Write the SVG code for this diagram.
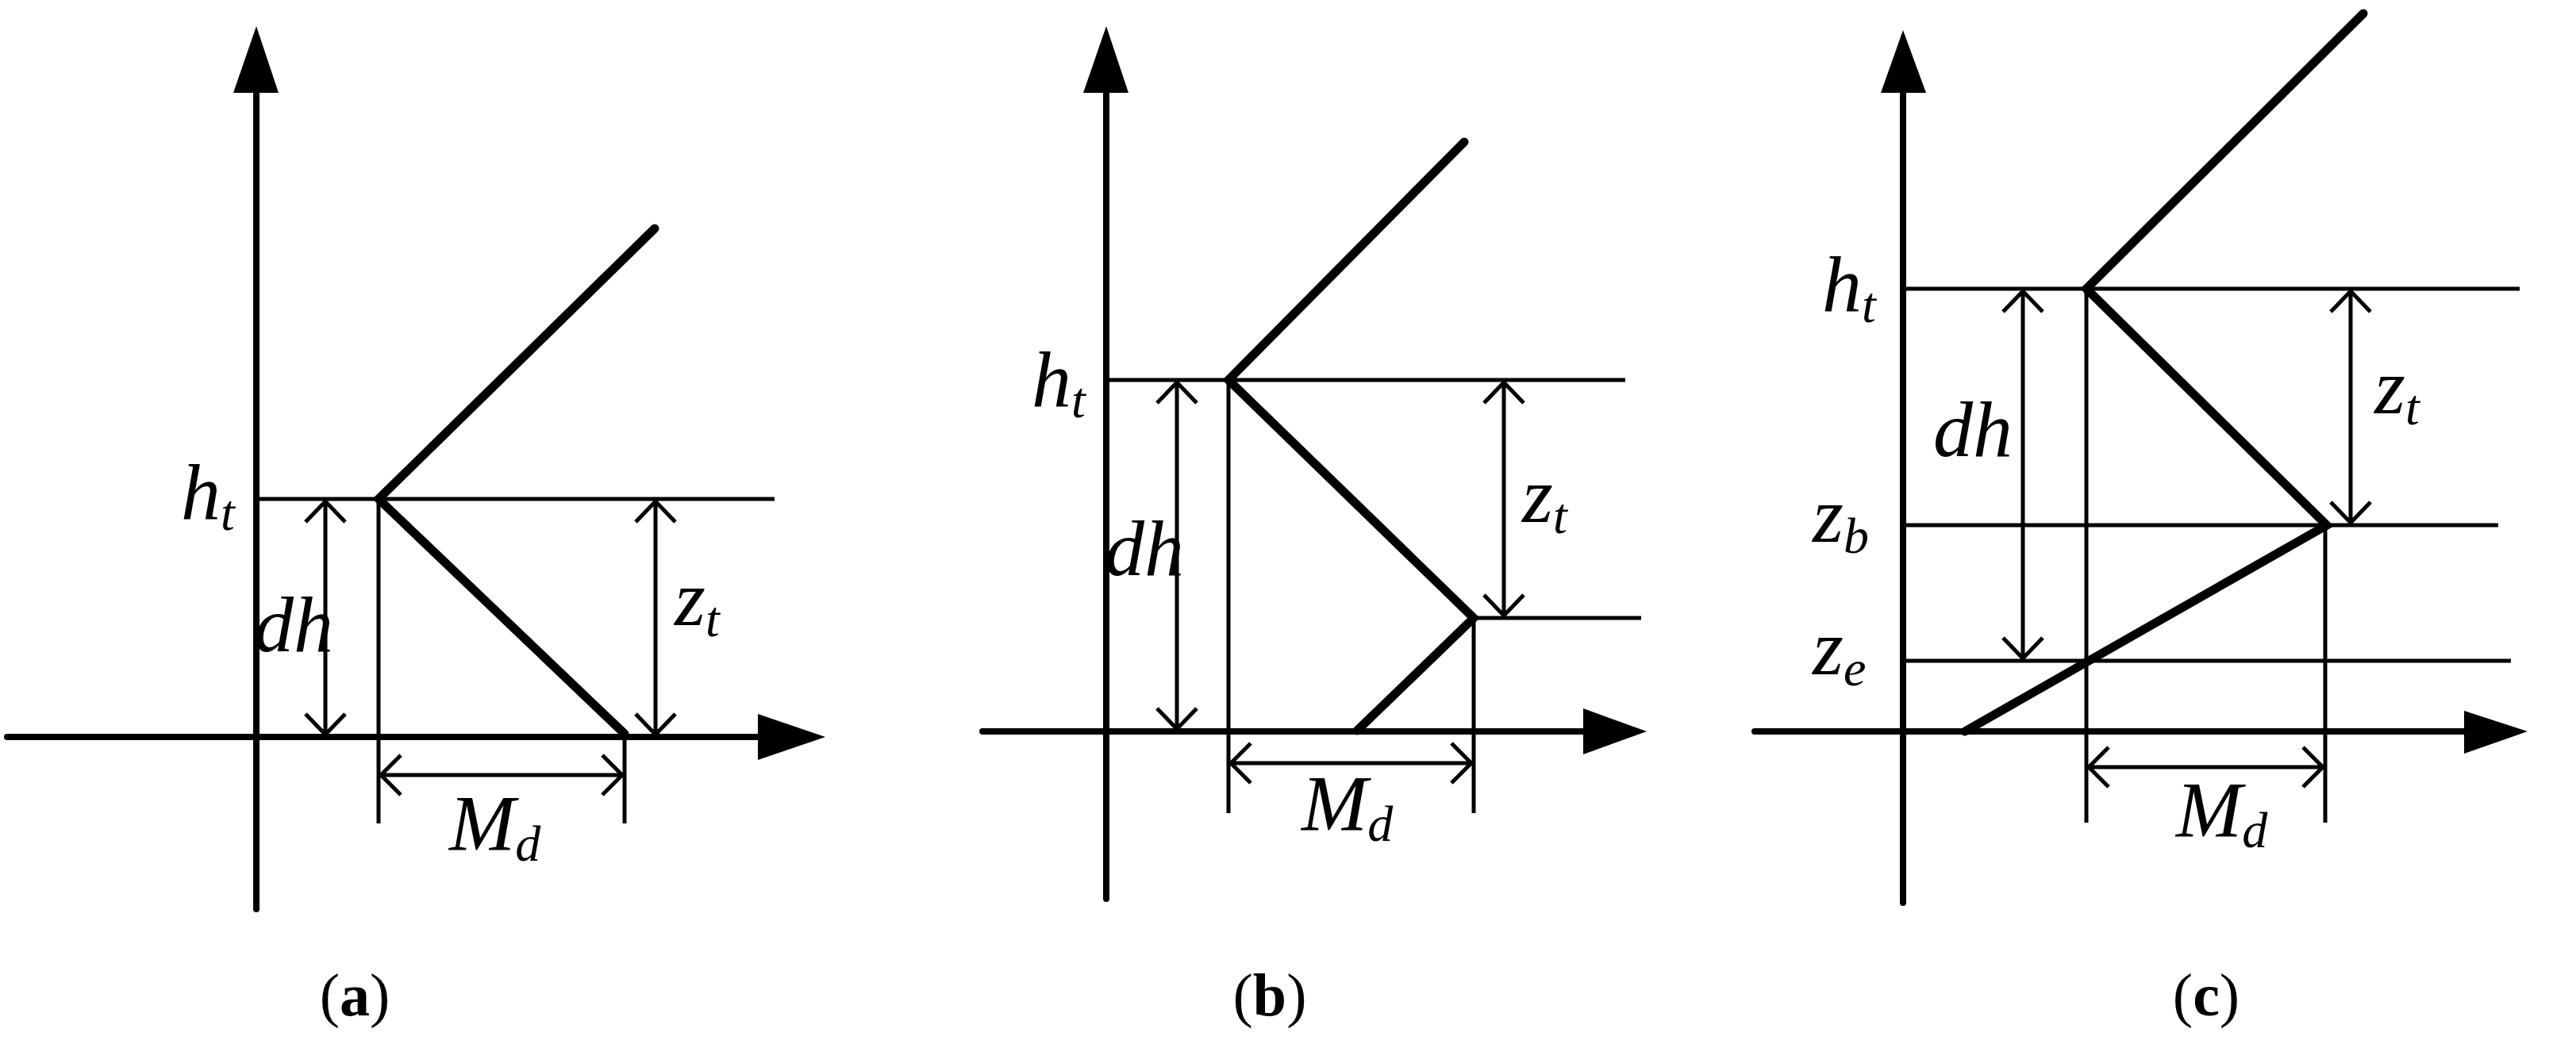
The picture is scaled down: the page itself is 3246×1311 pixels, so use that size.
<svg xmlns="http://www.w3.org/2000/svg" width="3246" height="1311" viewBox="0 0 3246 1311">
<style>
.ax{stroke:#000;stroke-width:8;fill:none;stroke-linecap:round}
.th{stroke:#000;stroke-width:5;fill:none}
.tk{stroke:#000;stroke-width:11;fill:none;stroke-linecap:round}
.hd{fill:#000}
.lb{font-family:"Liberation Serif",serif;font-style:italic;font-size:100px}
.sb{font-size:64px}
.cap{font-family:"Liberation Serif",serif;font-size:76px;text-anchor:middle}
</style>
<rect width="3246" height="1311" fill="#fff"/>
<g id="panel-a">
<path class="ax" d="M323 117V1146M9 929H965"/>
<path class="hd" d="M323 33L294 117H351Z M1040 929L955 900V958Z"/>
<path class="th" d="M326 629H976M477 629V1038M787 929V1038"/>
<path class="tk" d="M825 288L477 629L787 925"/>
<path class="th" d="M410 632V926M385 658L410 632L435 658M385 900L410 926L435 900"/>
<path class="th" d="M826 632V926M801 658L826 632L851 658M801 900L826 926L851 900"/>
<path class="th" d="M480 977H784M505 952L480 977L505 1002M759 952L784 977L759 1002"/>
<text class="lb" x="228" y="654">h<tspan class="sb" dy="14">t</tspan></text>
<text class="lb" x="320" y="821">dh</text>
<text class="lb" x="850" y="788">z<tspan class="sb" dy="14">t</tspan></text>
<text class="lb" x="566" y="1071">M<tspan class="sb" dy="14">d</tspan></text>
<text class="cap" x="447" y="1280">(<tspan font-weight="bold">a</tspan>)</text>
</g>
<g id="panel-b">
<path class="ax" d="M1394 117V1133M1238 922H2000"/>
<path class="hd" d="M2075 922L1995 893V951Z M1394 33L1365 117H1422Z"/>
<path class="th" d="M1394 479H2048M1857 779H2068M1548 479V1025M1857 779V1025"/>
<path class="tk" d="M1845 179L1548 479L1857 779L1710 921"/>
<path class="th" d="M1483 482V919M1458 508L1483 482L1508 508M1458 893L1483 919L1508 893"/>
<path class="th" d="M1895 482V776M1870 508L1895 482L1920 508M1870 750L1895 776L1920 750"/>
<path class="th" d="M1551 962H1854M1576 937L1551 962L1576 987M1829 937L1854 962L1829 987"/>
<text class="lb" x="1300" y="512">h<tspan class="sb" dy="14">t</tspan></text>
<text class="lb" x="1392" y="725">dh</text>
<text class="lb" x="1918" y="658">z<tspan class="sb" dy="14">t</tspan></text>
<text class="lb" x="1640" y="1046">M<tspan class="sb" dy="14">d</tspan></text>
<text class="cap" x="1600" y="1280">(<tspan font-weight="bold">b</tspan>)</text>
</g>
<g id="panel-c">
<path class="ax" d="M2398 117V1138M2211 922H3110"/>
<path class="hd" d="M3185 922L3105 896V950Z M2398 38L2370 117H2427Z"/>
<path class="th" d="M2398 364H3175M2398 662H3148M2398 833H3164M2629 364V1037M2930 662V1037"/>
<path class="tk" d="M2978 17L2629 364L2932 662L2476 922"/>
<path class="th" d="M2549 367V830M2524 393L2549 367L2574 393M2524 804L2549 830L2574 804"/>
<path class="th" d="M2962 367V659M2937 393L2962 367L2987 393M2937 633L2962 659L2987 633"/>
<path class="th" d="M2632 967H2927M2657 942L2632 967L2657 992M2902 942L2927 967L2902 992"/>
<text class="lb" x="2296" y="392">h<tspan class="sb" dy="14">t</tspan></text>
<text class="lb" x="2284" y="683">z<tspan class="sb" dy="14">b</tspan></text>
<text class="lb" x="2284" y="850">z<tspan class="sb" dy="14">e</tspan></text>
<text class="lb" x="2436" y="575">dh</text>
<text class="lb" x="2992" y="521">z<tspan class="sb" dy="14">t</tspan></text>
<text class="lb" x="2742" y="1054">M<tspan class="sb" dy="14">d</tspan></text>
<text class="cap" x="2780" y="1280">(<tspan font-weight="bold">c</tspan>)</text>
</g>
</svg>
